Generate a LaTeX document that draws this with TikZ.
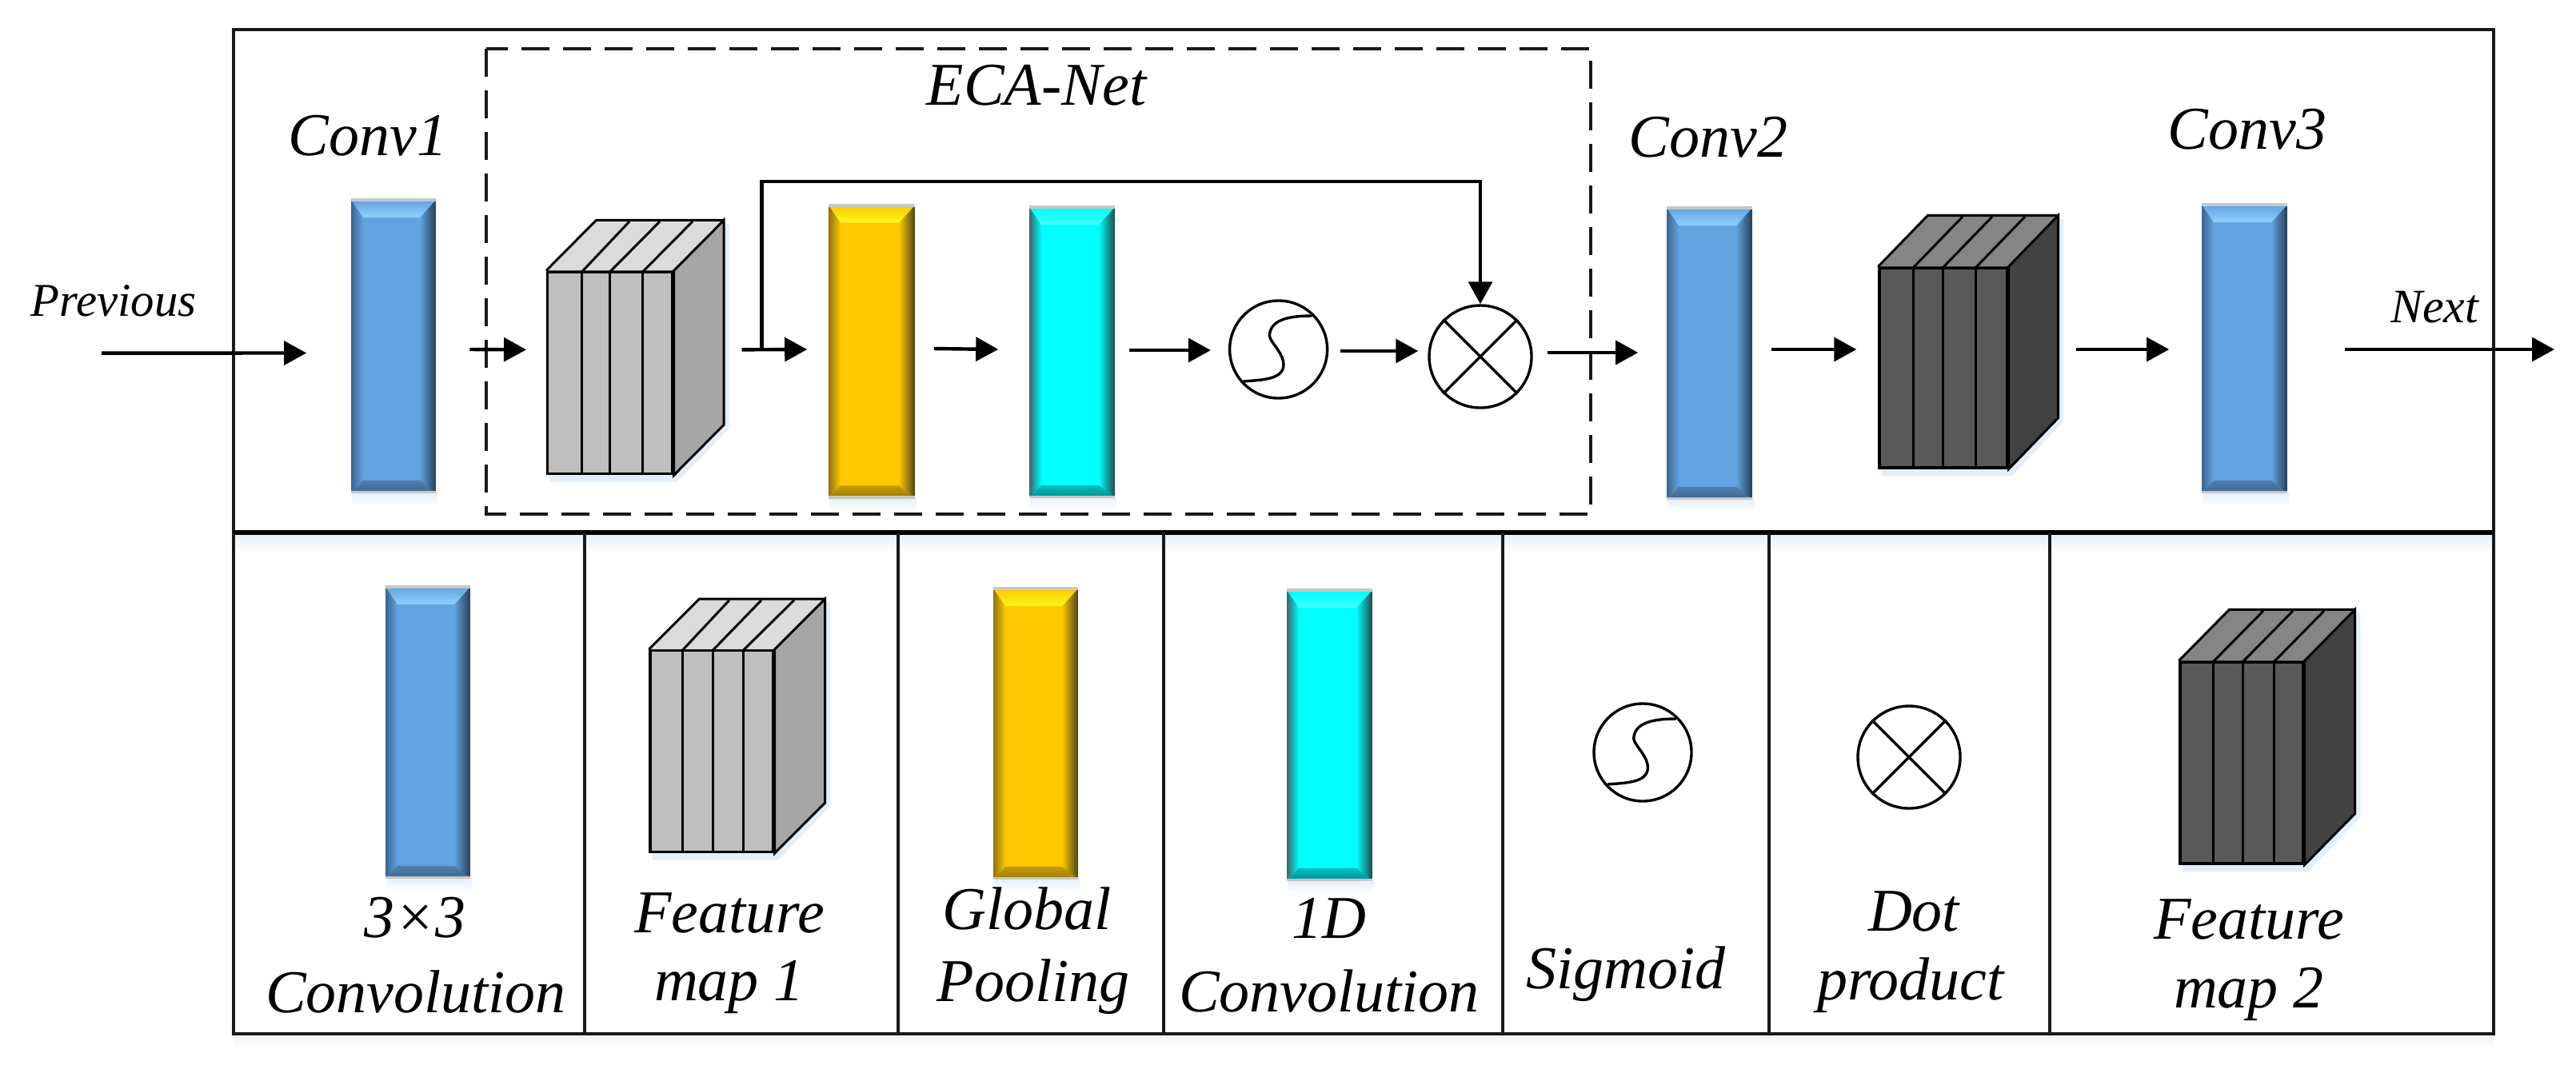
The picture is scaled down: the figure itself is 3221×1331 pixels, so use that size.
\documentclass[tikz,border=0pt]{standalone}
\usepackage{fontspec}
\setmainfont{Liberation Serif}
\usetikzlibrary{arrows.meta,calc}
\definecolor{glowc}{HTML}{E4EEF9}
\tikzset{
  frameline/.style={draw=black!90,line width=1.0pt},
  sepline/.style={draw=black,line width=1.5pt},
  dashbox/.style={draw=black!90,line width=1pt,dash pattern=on 8.75pt off 4.25pt},
  arr/.style={draw=black,line width=1.1pt,-{Triangle[length=7pt,width=7.4pt]}},
  lab/.style={font=\fontsize{19pt}{21pt}\selectfont\itshape,inner sep=0pt,anchor=center},
  labs/.style={font=\fontsize{14.7pt}{16pt}\selectfont\itshape,inner sep=0pt,anchor=center},
  labn/.style={font=\fontsize{15pt}{17pt}\selectfont\itshape,inner sep=0pt,anchor=center},
  opnode/.style={circle,draw=black,line width=.85pt,inner sep=0pt,fill=white},
  barbox/.style={rectangle,inner sep=0pt,draw=none},
  fmfront/.style={rectangle,inner sep=0pt,draw=black,line width=.8pt},
  fmline/.style={draw=black,line width=.75pt,line join=miter},
}
% name, cx, cy, w, h, colour prefix
\newcommand{\bevelbar}[6]{
  \shade[top color=glowc,bottom color=white] (#2-#4/2,#3+#5/2) rectangle (#2+#4/2+3,#3+#5/2+16);
  \node[barbox,fill=#6base,minimum width=#4*.25pt,minimum height=#5*.25pt] (#1) at (#2,#3) {};
  \shade[left color=#6left,middle color=#6left!45!#6base,right color=#6base] (#1.north west) -- ([shift={(15,24)}]#1.north west) -- ([shift={(15,-16)}]#1.south west) -- (#1.south west) -- cycle;
  \shade[left color=#6base,middle color=#6right!45!#6base,right color=#6right] ([shift={(-20,24)}]#1.north east) -- (#1.north east) -- (#1.south east) -- ([shift={(-20,-16)}]#1.south east) -- cycle;
  \shade[top color=#6base,bottom color=#6light] ([shift={(0,2)}]#1.north west) -- ([shift={(0,2)}]#1.north east) -- ([shift={(-20,24)}]#1.north east) -- ([shift={(15,24)}]#1.north west) -- cycle;
  \shade[top color=#6bot!55!#6base,bottom color=#6bot] ([shift={(15,-16)}]#1.south west) -- ([shift={(-20,-16)}]#1.south east) -- (#1.south east) -- (#1.south west) -- cycle;
  \fill[black!22] (#1.north west) rectangle ([shift={(0,4)}]#1.north east);
  \fill[black!22] ([shift={(0,-3)}]#1.south west) rectangle (#1.south east);
}
% name, x1, y1, x2, y2, dx, dy(up), front, top  (side colour from fmside)
\newcommand{\featmap}[9]{
  \fill[glowc] (#2+3,#5) -- (#2+3,#5+10) -- (#4+6,#5+10) -- (#4+#6+8,#5-#7+6) -- (#4+#6+8,#3-#7+4) -- (#4+#6,#3-#7) -- (#4,#5) -- cycle;
  \node[fmfront,fill=#8,minimum width=#4*.25pt-#2*.25pt,minimum height=#5*.25pt-#3*.25pt] (#1) at ({(#2+#4)/2},{(#3+#5)/2}) {};
  \path[fill=#9] (#1.north west) -- ([shift={(#6,-#7)}]#1.north west) -- ([shift={(#6,-#7)}]#1.north east) -- (#1.north east) -- cycle;
  \draw[fmline,fill=fmside] (#1.north east) -- ([shift={(#6,-#7)}]#1.north east) -- ([shift={(#6,-#7)}]#1.south east) -- (#1.south east) -- cycle;
  \draw[fmline] (#1.north west) -- ([shift={(#6,-#7)}]#1.north west) -- ([shift={(#6,-#7)}]#1.north east);
}
\newcommand{\sigmoidop}[3]{
  \node[opnode,minimum size=30.5pt] (#1) at (#2,#3) {};
  \draw[line width=.85pt] ([shift={(-44,40)}]#1.center) .. controls ([shift={(-20,38)}]#1.center) and ([shift={(10,38)}]#1.center) .. ([shift={(6,15)}]#1.center) .. controls ([shift={(3,0)}]#1.center) and ([shift={(-14,-12)}]#1.center) .. ([shift={(-11,-20)}]#1.center) .. controls ([shift={(-8,-38)}]#1.center) and ([shift={(15,-42)}]#1.center) .. ([shift={(42,-42)}]#1.center);
}
\newcommand{\dotop}[3]{
  \node[opnode,minimum size=32pt] (#1) at (#2,#3) {};
  \draw[line width=.85pt] (#1.north west) -- (#1.south east) (#1.north east) -- (#1.south west);
}
\definecolor{blbase}{HTML}{62A3E0}
\definecolor{bllight}{HTML}{8FD2FF}
\definecolor{blleft}{HTML}{3A6690}
\definecolor{blright}{HTML}{263F58}
\definecolor{blbot}{HTML}{3F6488}
\definecolor{yebase}{HTML}{FFC800}
\definecolor{yelight}{HTML}{FFF81E}
\definecolor{yeleft}{HTML}{8F7410}
\definecolor{yeright}{HTML}{4E4518}
\definecolor{yebot}{HTML}{9A7800}
\definecolor{cybase}{HTML}{00FFFF}
\definecolor{cylight}{HTML}{40FFFF}
\definecolor{cyleft}{HTML}{3A6A6E}
\definecolor{cyright}{HTML}{204A4E}
\definecolor{cybot}{HTML}{008C8C}
\colorlet{fmside}{black!35}
\begin{document}
\begin{tikzpicture}[x=.25pt,y=-.25pt]
\useasboundingbox (0,0) rectangle (3221,1331);
\fill[white] (0,0) rectangle (3221,1331);
% glows
\shade[top color=glowc,bottom color=white] (292,668) rectangle (3118,690);
\shade[top color=glowc!70,bottom color=white] (292,1294) rectangle (3118,1310);
% frame
\coordinate (tl) at (292,37);
\coordinate (br) at (3118,1293);
\coordinate (sl) at (292,666);
\coordinate (sr) at (3118,666);
\draw[frameline] (tl) rectangle (br);
\draw[sepline] (sl) -- (sr);
\foreach \xx in {731,1123,1455,1879,2212,2563}{
  \draw[frameline] (\xx,666) -- (\xx,1293);
}
\draw[dashbox] (607.5,61) rectangle (1989,643);
% top row
\bevelbar{c1}{492}{432.5}{104}{367}{bl}
\featmap{fa}{684.6}{340}{841}{592.7}{62.5}{63}{black!25}{black!14}
\draw[fmline] (727.5,340) -- (727.5,592.7) (762.6,340) -- (762.6,592.7) (803.5,340) -- (803.5,592.7);
\draw[fmline] (727.5,340) -- (787,277) (762.6,340) -- (825,277) (803.5,340) -- (866,277);
\bevelbar{pool}{1090}{439}{106}{367}{ye}
\bevelbar{cy}{1340.5}{440}{105}{364}{cy}
\sigmoidop{sg}{1598.6}{437}
\dotop{dp}{1851}{446}
\bevelbar{c2}{2137.5}{441.5}{105}{365}{bl}
\colorlet{fmside}{black!74}
\featmap{fb}{2350}{335}{2510}{585}{62}{64}{black!65}{black!48}
\draw[fmline] (2392,335) -- (2392,585) (2429,335) -- (2429,585) (2470,335) -- (2470,585);
\draw[fmline] (2392,335) -- (2454,271) (2429,335) -- (2491,271) (2470,335) -- (2532,271);
\bevelbar{c3}{2806.5}{435.5}{105}{361}{bl}
% connectors
\coordinate (pv) at (127,441.6);
\draw[arr] (pv) -- ([shift={(-56,9)}]c1.west);
\draw[arr] ([shift={(42.6,4.5)}]c1.east) -- ([shift={(-25,-29)}]fa.west);
\coordinate (bq) at (952.4,437);
\draw[arr] ([shift={(85,-29)}]fa.east) -- ([shift={(-27,-2)}]pool.west);
\draw[arr] ([shift={(24,-3)}]pool.east) -- ([shift={(-39,-3)}]cy.west);
\draw[arr] ([shift={(18,-2)}]cy.east) -- ([shift={(-22,1)}]sg.west);
\draw[arr] ([shift={(15,2)}]sg.east) -- ([shift={(-12,-7)}]dp.west);
\coordinate (tp) at (1851,226.7);
\draw[arr] (bq) |- (tp) -- (dp.north);
\draw[arr] ([shift={(18,-5)}]dp.east) -- ([shift={(-36,-0.5)}]c2.west);
\draw[arr] ([shift={(24,-4.5)}]c2.east) -- ([shift={(-27,-23)}]fb.west);
\draw[arr] ([shift={(84,-23)}]fb.east) -- ([shift={(-41,1.5)}]c3.west);
\coordinate (nx) at (3194,437);
\draw[arr] ([shift={(72,1.5)}]c3.east) -- (nx);
% top labels
\node[lab] (tc1) at (460,170) {Conv1};
\node[lab] (tec) at (1296,107) {ECA-Net};
\node[lab] (tc2) at (2136,172) {Conv2};
\node[lab] (tc3) at (2810,162) {Conv3};
\node[labs] (tpv) at (142,376) {Previous};
\node[labn] (tnx) at (3044,384) {Next};
% legend
\bevelbar{lc}{535}{915.5}{104}{365}{bl}
\colorlet{fmside}{black!35}
\featmap{lfa}{813}{813.6}{967}{1065.5}{63}{63}{black!25}{black!14}
\draw[fmline] (853,813.6) -- (853,1065.5) (891,813.6) -- (891,1065.5) (929,813.6) -- (929,1065.5);
\draw[fmline] (853,813.6) -- (912,750.6) (891,813.6) -- (952,750.6) (929,813.6) -- (993,750.6);
\bevelbar{lp}{1295}{917}{104}{364}{ye}
\bevelbar{lcy}{1662.5}{919}{105}{364}{cy}
\sigmoidop{lsg}{2054}{941}
\dotop{ldp}{2387}{947}
\colorlet{fmside}{black!74}
\featmap{lfb}{2726}{828}{2880}{1080}{63}{64}{black!65}{black!48}
\draw[fmline] (2767,828) -- (2767,1080) (2804,828) -- (2804,1080) (2843,828) -- (2843,1080);
\draw[fmline] (2767,828) -- (2830,764) (2804,828) -- (2867,764) (2843,828) -- (2906,764);
\node[lab] (l1a) at (519,1148) {3×3};
\node[lab] (l1b) at (520,1241) {Convolution};
\node[lab] (l2a) at (912,1142) {Feature};
\node[lab] (l2b) at (912,1234) {map 1};
\node[lab] (l3a) at (1284,1136) {Global};
\node[lab] (l3b) at (1292,1234) {Pooling};
\node[lab] (l4a) at (1662,1148) {1D};
\node[lab] (l4b) at (1662,1240) {Convolution};
\node[lab] (l5) at (2033,1218) {Sigmoid};
\node[lab] (l6a) at (2393,1140) {Dot};
\node[lab] (l6b) at (2389,1232) {product};
\node[lab] (l7a) at (2812,1150) {Feature};
\node[lab] (l7b) at (2812,1243) {map 2};
\end{tikzpicture}
\end{document}
